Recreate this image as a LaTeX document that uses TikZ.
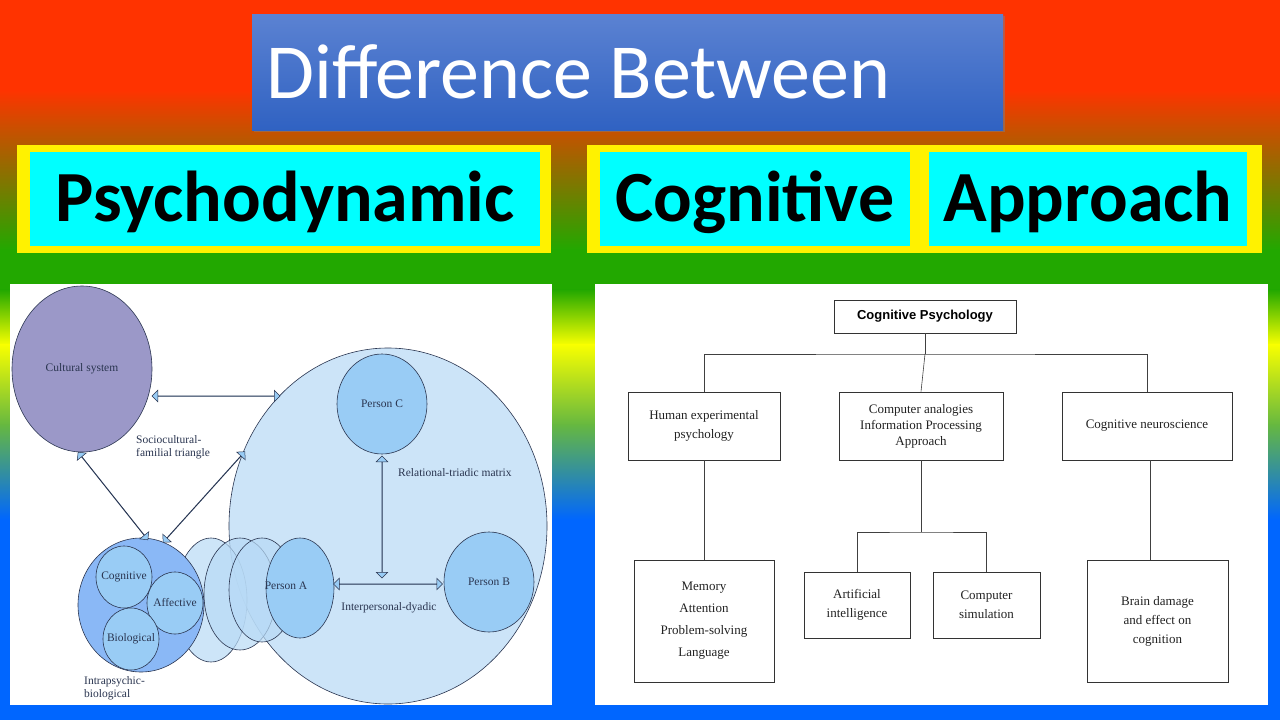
\documentclass[tikz,border=0pt]{standalone}
\usepackage{fontspec}
\setmainfont{Liberation Serif}
\newfontfamily\calfont{Carlito}
\newfontfamily\lsans{Liberation Sans}
\usetikzlibrary{shapes.geometric,shapes.arrows,shadows}
\definecolor{bgred}{HTML}{FF3300}
\definecolor{bggreen}{HTML}{22A800}
\definecolor{bgyel}{HTML}{F8FF00}
\definecolor{bggreen2}{HTML}{66B840}
\definecolor{bgblue}{HTML}{0066FF}
\definecolor{ttop}{HTML}{5B82D2}
\definecolor{tbot}{HTML}{3062C2}
\definecolor{cyanbox}{HTML}{00FFFF}
\definecolor{cult}{HTML}{9B98C8}
\definecolor{bigc}{HTML}{CCE4F8}
\definecolor{midc}{HTML}{99CCF5}
\definecolor{lightc}{HTML}{B8DAF6}
\definecolor{edge}{HTML}{2A3550}
\definecolor{txt}{HTML}{222222}
\tikzset{
  circ/.style={ellipse, draw=edge, line width=0.6pt, inner sep=0pt},
  lbl/.style={font=\fontsize{11.5}{13.5}\selectfont, text=edge, inner sep=0pt, align=left},
  darr/.style={double arrow, draw=edge, fill=midc, line width=0.5pt, inner sep=0pt,
    minimum width=7pt, double arrow head extend=5.5pt, double arrow head indent=0pt},
  box/.style={draw=black!80, line width=0.6pt, fill=white, inner sep=2pt, align=center,
    font=\fontsize{13}{19}\selectfont, text=txt},
  conn/.style={draw=black!75, line width=0.6pt},
  ttl/.style={font=\calfont\bfseries\fontsize{72}{80}\selectfont, text=black, inner sep=0pt}
}
\begin{document}
\begin{tikzpicture}[x=1pt,y=-1pt]
\useasboundingbox (0,0) rectangle (1280,720);
% background
\fill[bgred] (0,0) rectangle (1280,90);
\shade[top color=bgred, bottom color=bggreen] (0,89.5) rectangle (1280,250);
\fill[bggreen] (0,249.5) rectangle (1280,290);
\shade[top color=bggreen, bottom color=bgyel] (0,289.5) rectangle (1280,345);
\shade[top color=bgyel, bottom color=bggreen2] (0,344.5) rectangle (1280,425);
\shade[top color=bggreen2, bottom color=bgblue] (0,424.5) rectangle (1280,520);
\fill[bgblue] (0,519.5) rectangle (1280,720);
% title
\node[drop shadow, top color=ttop, bottom color=tbot, minimum width=751pt, minimum height=116pt, inner sep=0pt] (title) at (627.5,72) {};
\node[font=\calfont\fontsize{78}{84}\selectfont, text=white, anchor=west, inner sep=0pt] (titletxt) at (266,72) {Difference Between};
% heading boxes
\fill[yellow] (17,145) rectangle (551,253);
\fill[cyanbox] (30,152) rectangle (540,246);
\fill[yellow] (587,145) rectangle (1262,253);
\fill[cyanbox] (600,152) rectangle (910,246);
\fill[cyanbox] (929,152) rectangle (1247,246);
\node[ttl] (psy) at (285,202) {Psychodynamic};
\node[ttl] (cog) at (755,202) {Cognitive};
\node[ttl] (app) at (1088,202) {Approach};
% panels
\fill[white] (10,284) rectangle (552,705);
\fill[white] (595,284) rectangle (1268,705);
% left diagram
\node[circ, fill=bigc, minimum width=318pt, minimum height=356pt] (big) at (388,526) {};
\node[circ, fill=lightc, fill opacity=0.7, draw opacity=1, minimum width=72pt, minimum height=124pt] (e1) at (211,600) {};
\node[circ, fill=lightc, fill opacity=0.7, minimum width=72pt, minimum height=112pt] (e2) at (240,594) {};
\node[circ, fill=lightc, fill opacity=0.7, minimum width=66pt, minimum height=104pt] (e3) at (262,590) {};
\node[circ, fill=midc, minimum width=68pt, minimum height=100pt] (pa) at (300,588) {};
\node[circ, fill=midc, minimum width=90pt, minimum height=100pt] (pc) at (382,404) {};
\node[circ, fill=midc, minimum width=90pt, minimum height=100pt] (pb) at (489,582) {};
\node[circ, fill=cult, minimum width=140pt, minimum height=166pt] (cs) at (82,369) {};
\node[circ, fill=midc!90!blue, minimum width=126pt, minimum height=134pt] (ip) at (141,605) {};
\node[circ, fill=midc, minimum width=56pt, minimum height=62pt] (ci) at (124,577) {};
\node[circ, fill=midc, minimum width=56pt, minimum height=62pt] (ai) at (175,603) {};
\node[circ, fill=midc, minimum width=56pt, minimum height=62pt] (bi) at (131,639) {};
% arrows
\node[darr, minimum height=128pt] (a1) at (216,396) {};
\node[darr, minimum height=112pt, rotate=-51.5] (a2) at (113,496) {};
\node[darr, minimum height=122pt, rotate=48] (a3) at (204,497) {};
\node[darr, minimum height=122pt, rotate=90] (a4) at (382,517) {};
\node[darr, minimum height=109pt] (a5) at (388,584) {};
% labels
\node[lbl] at (cs) {Cultural system};
\node[lbl, anchor=west] (soc) at (136,447) {Sociocultural-\\familial triangle};
\node[lbl] at (pc) {Person C};
\node[lbl, anchor=west] (rel) at (398,473) {Relational-triadic matrix};
\node[lbl] at (286,586) {Person A};
\node[lbl] (inter) at (389,608) {Interpersonal-dyadic};
\node[lbl] at (pb) {Person B};
\node[lbl] at (ci) {Cognitive};
\node[lbl] at (ai) {Affective};
\node[lbl] at (bi) {Biological};
\node[lbl, anchor=west] (intra) at (84,688) {Intrapsychic-\\biological};
% right diagram
\node[box, font=\lsans\bfseries\fontsize{13}{15}\selectfont, text=black, minimum width=182pt, minimum height=33pt] (cp) at (925,316.5) {Cognitive Psychology};
\node[box, minimum width=152pt, minimum height=68pt] (hep) at (704,426) {Human experimental\\psychology};
\node[box, minimum width=164pt, minimum height=68pt] (ca) at (921,426) {Computer analogies\\[-3pt]Information Processing\\[-3pt]Approach};
\node[box, minimum width=170pt, minimum height=68pt] (cn) at (1147,426) {Cognitive neuroscience};
\node[box, minimum width=140pt, minimum height=122pt, font=\fontsize{13}{22}\selectfont] (mem) at (704,621) {Memory\\Attention\\Problem-solving\\Language};
\node[box, minimum width=106pt, minimum height=66pt] (ai2) at (857,605) {Artificial\\intelligence};
\node[box, minimum width=107pt, minimum height=66pt] (sim) at (986.5,605) {Computer\\simulation};
\node[box, minimum width=141pt, minimum height=122pt] (bd) at (1157.5,621) {Brain damage\\and effect on\\cognition};
\coordinate (j1) at (925,354);
\coordinate (j2) at (921,532);
\draw[conn] (cp.south) -- (j1);
\draw[conn] (hep.north) |- (j1) -| (cn.north);
\draw[conn] (j1) -- (ca.north);
\draw[conn] (hep.south) -- (mem.north);
\draw[conn] (ca.south) -- (j2);
\draw[conn] (ai2.north) |- (j2) -| (sim.north);
\draw[conn] (1150,460) -- (1150,560);
\end{tikzpicture}
\end{document}
